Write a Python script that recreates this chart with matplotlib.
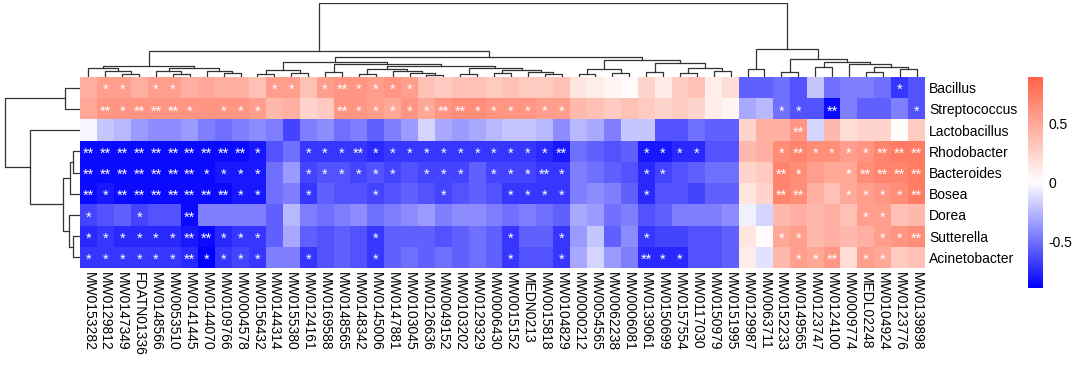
import numpy as np
import matplotlib.pyplot as plt
from matplotlib.colors import LinearSegmentedColormap

plt.rcParams['font.family'] = ['Liberation Sans', 'DejaVu Sans']

genera = ['Bacillus', 'Streptococcus', 'Lactobacillus', 'Rhodobacter', 'Bacteroides',
          'Bosea', 'Dorea', 'Sutterella', 'Acinetobacter']

samples = ['MW0153282', 'MW0129812', 'MW0147349', 'FDATN01336', 'MW0148566', 'MW0053510',
           'MW0141445', 'MW0144070', 'MW0109766', 'MW0004578', 'MW0156432', 'MW0144314',
           'MW0155380', 'MW0124161', 'MW0169588', 'MW0148565', 'MW0148342', 'MW0145006',
           'MW0147881', 'MW0103045', 'MW0126636', 'MW0049152', 'MW0103202', 'MW0129329',
           'MW0006430', 'MW0015152', 'MEDN0213', 'MW0015818', 'MW0104829', 'MW0000212',
           'MW0054565', 'MW0062238', 'MW0006081', 'MW0139061', 'MW0150699', 'MW0157554',
           'MW0117030', 'MW0150979', 'MW0151995', 'MW0129987', 'MW0063711', 'MW0152233',
           'MW0149565', 'MW0123747', 'MW0124100', 'MW0009774', 'MEDL02248', 'MW0104924',
           'MW0123776', 'MW0139898']

# correlation values, one list per genus (columns in sample order)
bacillus = [.45, .55, .55, .45, .55, .55, .45, .5, .45, .45, .35, .55, .55, .35, .55, .6, .6, .55,
            .6, .55, .35, .3, .35, .35, .3, .35, .3, .3, .35, .15, .1, .05, .02, .25, .12, .3, .35,
            .1, .2, -.55, -.55, -.5, -.6, -.2, -.5, -.45, -.45, -.5, -.7, -.6]
streptococcus = [.5, .6, .6, .6, .6, .6, .6, .6, .6, .6, .55, .4, .45, .25, .3, .6, .6, .55, .5,
                 .6, .5, .6, .65, .65, .6, .6, .6, .55, .55, .4, .35, .3, .35, .3, .25, .3, .25,
                 .1, .05, -.3, -.25, -.5, -.6, -.6, -.85, -.45, -.55, -.55, -.45, -.6]
lactobacillus = [-.03, -.2, -.25, -.35, -.4, -.4, -.35, -.45, -.5, -.45, -.4, -.45, -.65, -.45,
                 -.4, -.5, -.45, -.55, -.45, -.35, -.15, -.3, -.35, -.3, -.25, -.2, -.2, -.25,
                 -.4, -.25, -.3, -.45, -.2, -.2, -.6, -.6, -.5, -.55, -.55, .25, .45, .45, .6,
                 -.15, .4, .2, .25, .25, .02, .3]
rhodobacter = [-.85, -.85, -.85, -.85, -.85, -.85, -.85, -.85, -.85, -.85, -.8, -.6, -.5, -.7,
               -.7, -.7, -.7, -.75, -.7, -.7, -.7, -.7, -.7, -.7, -.7, -.7, -.7, -.75, -.8, -.5,
               -.55, -.6, -.55, -.8, -.8, -.75, -.75, -.6, -.6, .4, .45, .65, .7, .65, .65, .55,
               .6, .7, .75, .75]
bacteroides = [-.85, -.85, -.85, -.85, -.85, -.85, -.85, -.85, -.8, -.8, -.8, -.5, -.35, -.65,
               -.6, -.6, -.65, -.6, -.65, -.6, -.65, -.65, -.65, -.55, -.65, -.65, -.65, -.7,
               -.7, -.45, -.5, -.55, -.6, -.75, -.65, -.6, -.55, -.5, -.5, .25, .3, .7, .65, .55,
               .5, .5, .65, .7, .7, .75]
bosea = [-.85, -.8, -.85, -.85, -.85, -.85, -.85, -.85, -.85, -.8, -.8, -.5, -.45, -.7, -.55,
         -.6, -.6, -.65, -.6, -.55, -.6, -.65, -.6, -.55, -.6, -.7, -.7, -.7, -.7, -.45, -.4,
         -.45, -.55, -.75, -.6, -.6, -.65, -.55, -.55, .15, .25, .7, .65, .45, .35, .5, .55, .6,
         .65, .75]
dorea = [-.65, -.6, -.55, -.65, -.6, -.6, -.85, -.45, -.45, -.45, -.45, -.55, -.25, -.45, -.5,
         -.45, -.4, -.5, -.45, -.4, -.35, -.45, -.4, -.4, -.45, -.5, -.45, -.5, -.55, -.3,
         -.35, -.5, -.45, -.6, -.55, -.45, -.45, -.45, -.4, -.05, -.15, .4, .45, .4, .45, .35,
         .55, .55, .35, .4]
sutterella = [-.75, -.7, -.75, -.75, -.75, -.75, -.8, -.85, -.75, -.7, -.7, -.55, -.3, -.55,
              -.6, -.55, -.6, -.7, -.55, -.55, -.55, -.6, -.55, -.5, -.55, -.7, -.55, -.55, -.7,
              -.35, -.2, -.55, -.4, -.7, -.65, -.65, -.6, -.6, -.55, .15, .02, .5, .55, .4, .45,
              .4, .45, .55, .6, .65]
acinetobacter = [-.7, -.7, -.7, -.7, -.7, -.7, -.75, -.9, -.7, -.65, -.7, -.45, -.45, -.7, -.6,
                 -.55, -.6, -.7, -.55, -.5, -.55, -.5, -.55, -.5, -.55, -.7, -.6, -.6, -.7, -.3,
                 -.15, -.35, -.45, -.75, -.75, -.75, -.6, -.6, -.55, .1, -.1, .4, .55, .5, .6,
                 .2, .55, .5, .3, .35]

# significance marks per genus, groups of ten columns: 0 = none, 1 = *, 2 = **
sig = ['0110110000 0110121111 0000000000 0000000000 0000000010',
       '0212221011 1000021111 1221111110 0000000000 0110200001',
       '0000000000 0000000000 0000000000 0000000000 0020000000',
       '2222222222 1001112111 1111111120 0001111000 0121111222',
       '2222222111 1001111110 1110111210 0001100000 0210012222',
       '2122222221 1001000100 0100011110 0001000000 0220011112',
       '1001002000 0000000000 0000000000 0000000000 0000001100',
       '1111112211 1000000100 0000010010 0001000000 0110000112',
       '1111112111 1001000100 0000010010 0002110000 0011201100']

col_tree = (74,
            (26,
             (11, (9, 0, (6, 1, (3, 2, 3))), (9, (6, 4, (3, 5, 6)), (6, 7, (4, 8, 9)))),
             (20,
              (15, (7, (3, 10, 11), (4, 12, 13)),
               (13, (5, 14, 15),
                (11, (8, (3, 16, 17), (6, 18, (4, 19, (2, 20, 21)))),
                 (9, (3, 22, 23), (7, (4, 24, 25), (5, 26, (3, 27, 28))))))),
              (17, (8, (3, 29, 30), (4, 31, 32)),
               (14, (5, 33, 34), (9, (4, 35, 36), (6, 37, 38)))))),
            (28, (8, 39, 40),
             (18, (5, 41, 42),
              (15, (10, 43, 44), (13, 45, (10, (5, 46, 47), (8, 48, 49)))))))
row_tree = (75, (15, 0, 1), (50, 2, (17, (10, (7, 3, 4), 5), (11, 6, (7, 7, 8)))))


def walk(node, segs):
    if isinstance(node, int):
        return node + 0.5, 0.0
    h, a, b = node
    pa, ha = walk(a, segs)
    pb, hb = walk(b, segs)
    segs.append(([pa, pa, pb, pb], [ha, h, h, hb]))
    return (pa + pb) / 2, h


data = np.array([bacillus, streptococcus, lactobacillus, rhodobacter, bacteroides,
                 bosea, dorea, sutterella, acinetobacter])
marks = [s.replace(' ', '') for s in sig]

cmap = LinearSegmentedColormap.from_list('bwr2', ['#0000FF', '#FFFFFF', '#FF6347'])

W, H = 1080, 366
fig = plt.figure(figsize=(W / 100, H / 100), dpi=100)

ax = fig.add_axes([80 / W, 1 - 268 / H, 845 / W, 191 / H])
mesh = ax.pcolormesh(data, cmap=cmap, vmin=-0.89, vmax=0.89)
ax.set_xlim(0, 50)
ax.set_ylim(9, 0)
for i in range(9):
    for j in range(50):
        k = int(marks[i][j])
        if k:
            ax.text(j + 0.5, i + 0.62, '*' * k, ha='center', va='center',
                    color='white', fontsize=10.5)
ax.set_xticks(np.arange(50) + 0.5)
ax.set_xticklabels(samples, rotation=-90, fontsize=10)
ax.set_yticks(np.arange(9) + 0.5)
ax.set_yticklabels(genera, fontsize=10)
ax.yaxis.tick_right()
ax.tick_params(length=0, pad=3)
for s in ax.spines.values():
    s.set_visible(False)

# column dendrogram
dx = fig.add_axes([80 / W, 1 - 77 / H, 845 / W, 74 / H])
segs = []
walk(col_tree, segs)
for xs, ys in segs:
    dx.plot(xs, ys, color='#333333', lw=0.9)
dx.set_xlim(0, 50)
dx.set_ylim(0, 74.5)
dx.axis('off')

# row dendrogram
rx = fig.add_axes([3 / W, 1 - 268 / H, 77 / W, 191 / H])
segs = []
walk(row_tree, segs)
for ys, xs in segs:
    rx.plot(xs, ys, color='#333333', lw=0.9)
rx.set_xlim(77, 0)
rx.set_ylim(9, 0)
rx.axis('off')

cax = fig.add_axes([1028 / W, 1 - 288 / H, 15 / W, 211 / H])
cb = fig.colorbar(mesh, cax=cax, ticks=[-0.5, 0, 0.5])
cb.ax.set_yticklabels(['-0.5', '0', '0.5'], fontsize=10)
cb.outline.set_visible(False)
cax.tick_params(length=0, pad=4)

fig.savefig('out.png', dpi=100)
